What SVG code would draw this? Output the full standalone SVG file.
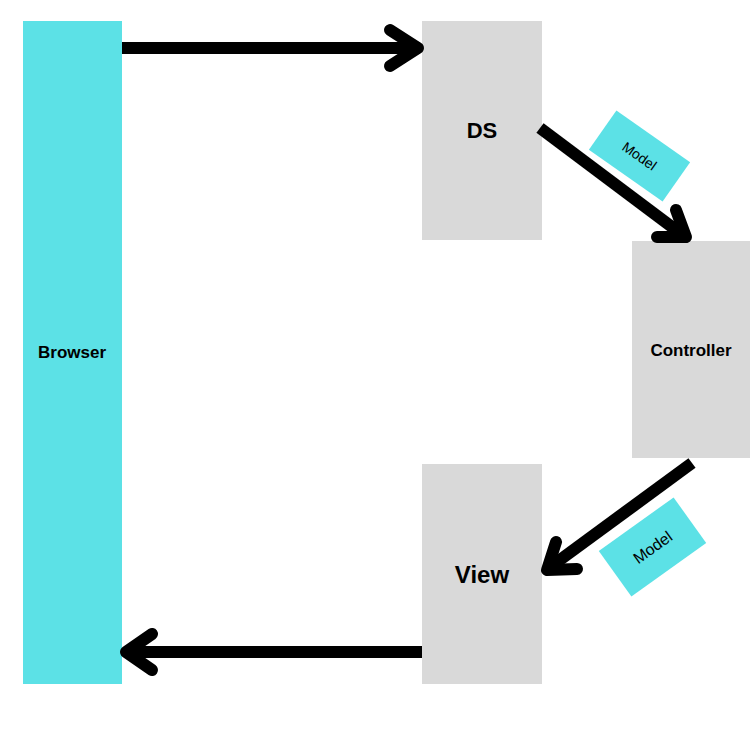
<svg xmlns="http://www.w3.org/2000/svg" width="750" height="750" viewBox="0 0 750 750">
<style>
.box{fill:#d9d9d9}
.cyan{fill:#5ce1e6}
.lbl{font-family:"Liberation Sans",Arial,sans-serif;font-weight:bold;fill:#000;text-anchor:middle}
.sm{font-family:"Liberation Sans",Arial,sans-serif;fill:#000;text-anchor:middle}
.ar{fill:none;stroke:#000;stroke-width:12;stroke-linecap:round;stroke-linejoin:round}
.sh{fill:none;stroke:#000;stroke-width:12;stroke-linecap:butt}
</style>
<rect width="750" height="750" fill="#fff"/>
<g id="browser"><rect class="cyan" x="23" y="21" width="99" height="663"/><text class="lbl" x="72" y="358" font-size="17">Browser</text></g>
<g id="ds"><rect class="box" x="422" y="21" width="120" height="219"/><text class="lbl" x="482" y="138" font-size="22">DS</text></g>
<g id="controller"><rect class="box" x="632" y="241" width="118" height="217"/><text class="lbl" x="691" y="356" font-size="17">Controller</text></g>
<g id="view"><rect class="box" x="422" y="464" width="120" height="220"/><text class="lbl" x="482" y="583" font-size="24">View</text></g>
<g id="model1" transform="translate(639.5,156) rotate(35)"><rect class="cyan" x="-45" y="-24" width="90" height="48"/><text class="sm" x="0" y="5" font-size="14">Model</text></g>
<g id="model2" transform="translate(652.5,547) rotate(-35.6)"><rect class="cyan" x="-46" y="-28" width="92" height="56"/><text class="sm" x="0" y="6" font-size="16">Model</text></g>
<g id="connectors">
<path class="sh" d="M122 48H410"/><path class="ar" d="M410 48H418M390 30L418 48L390 66"/>
<path class="sh" d="M540 128L680 233"/><path class="ar" d="M680 233L686 237M676 210L686 237L657 237"/>
<path class="sh" d="M692 463L553 565"/><path class="ar" d="M553 565L547 570M556 542L547 570L577 569"/>
<path class="sh" d="M422 652H134"/><path class="ar" d="M134 652H126M152 634L126 652L152 670"/>
</g>
</svg>
